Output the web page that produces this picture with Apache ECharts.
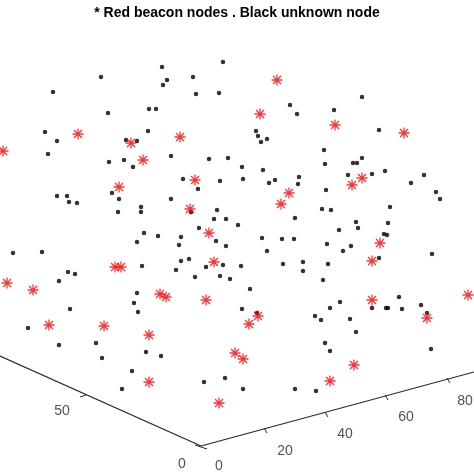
<!DOCTYPE html><html><head><meta charset="utf-8"><script src="https://cdn.jsdelivr.net/npm/echarts@6/dist/echarts.min.js"></script>
<style>html,body{margin:0;padding:0;background:#fff}#c{width:474px;height:474px}</style></head><body><div id="c"></div><script>
// Projected screen positions of 3D nodes
const beacons=[[3,151],[78,134],[131,143],[143,160],[180,137],[119,187],[195,180],[190,209],[209,233],[214,262],[115,267],[121,267],[7,283],[33,290],[160,294],[166,297],[206,300],[49,325],[104,326],[149,335],[149,382],[235,353],[243,359],[219,403],[258,316],[249,324],[277,80],[260,114],[335,125],[404,133],[352,185],[362,178],[281,204],[289,193],[380,243],[372,261],[372,300],[354,365],[330,381],[427,318],[468,295]];
const unknown=[[162,67],[223,62],[101,77],[193,77],[167,80],[163,85],[53,92],[196,94],[219,93],[290,105],[297,114],[334,110],[362,97],[108,113],[149,109],[156,109],[148,131],[45,132],[57,141],[126,140],[137,141],[256,131],[258,136],[261,142],[267,139],[379,130],[48,154],[109,162],[124,160],[133,167],[171,156],[209,159],[228,158],[242,167],[263,170],[324,150],[325,164],[353,163],[357,163],[362,158],[348,175],[372,174],[385,171],[424,175],[299,177],[183,179],[220,181],[243,179],[269,183],[275,180],[298,184],[411,183],[436,192],[440,199],[57,196],[67,196],[69,202],[77,203],[112,193],[119,199],[118,212],[141,207],[141,212],[171,199],[198,189],[191,212],[217,210],[214,219],[226,219],[238,225],[199,228],[144,233],[158,236],[137,242],[181,237],[179,245],[216,241],[226,246],[262,238],[267,251],[282,239],[294,239],[295,218],[326,190],[322,209],[331,210],[339,230],[356,222],[358,228],[388,223],[390,207],[384,234],[387,235],[327,244],[343,251],[351,246],[379,258],[432,254],[13,253],[42,252],[68,272],[75,274],[59,281],[142,266],[181,261],[189,259],[176,270],[195,277],[206,267],[223,265],[220,276],[230,279],[241,266],[283,264],[303,262],[303,271],[328,264],[323,280],[250,289],[137,293],[134,303],[399,297],[340,302],[330,308],[421,305],[70,309],[138,312],[28,328],[59,345],[96,343],[102,358],[146,352],[161,356],[132,371],[122,389],[204,382],[225,378],[243,389],[242,309],[257,313],[315,316],[321,320],[350,319],[356,332],[325,343],[330,351],[372,308],[386,308],[388,308],[402,309],[427,313],[431,349],[295,389],[316,391]];
const yTickLabels=['0','50'];
const xTickLabels=['0','20','40','60','80'];
const axisPts=[[0,356],[201,446],[474,372]];
const yTickPos=[[182,464],[62,411]];
const xTickPos=[[219,466],[285,451],[345,434],[406,417],[465,401]];
const tickSegs=[[[80,397],[86,395]],[[267,433],[264,428]],[[328,417],[325,412]],[[388,400],[385,395]],[[450,383],[447,378]],[[195,445],[207,449]]];
const star='path://M0,-5L0,5M-5,0L5,0M-3.6,-3.6L3.6,3.6M-3.6,3.6L3.6,-3.6';
const series=[
 {type:'line',data:axisPts,symbol:'none',lineStyle:{color:'#262626',width:1.2},silent:true}
];
tickSegs.forEach(s=>series.push({type:'line',data:s,symbol:'none',lineStyle:{color:'#262626',width:1},silent:true}));
series.push({type:'scatter',data:unknown,symbol:'circle',symbolSize:4.5,itemStyle:{color:'#000'}});
series.push({type:'scatter',data:beacons,symbol:star,symbolSize:11,itemStyle:{color:'none',borderColor:'#ff0000',borderWidth:1.3}});
const lab=(pos,txt)=>({type:'scatter',symbol:'circle',symbolSize:1,itemStyle:{color:'rgba(0,0,0,0)'},data:pos.map((p,i)=>({value:p,name:txt[i]})),label:{show:true,position:'inside',formatter:'{b}',color:'#262626',fontSize:14,fontFamily:'Arial, Liberation Sans'}});
series.push(lab(yTickPos,yTickLabels));
series.push(lab(xTickPos,xTickLabels));
const ch=echarts.init(document.getElementById('c'));
ch.setOption({animation:false,
 title:{text:'* Red beacon nodes . Black unknown node',left:'center',top:1,textStyle:{fontSize:14,fontWeight:'bold',color:'#000',fontFamily:'Arial, Liberation Sans'}},
 grid:{left:0,right:0,top:0,bottom:0},
 xAxis:{type:'value',min:0,max:474,show:false},
 yAxis:{type:'value',min:0,max:474,inverse:true,show:false},
 series});
</script></body></html>
